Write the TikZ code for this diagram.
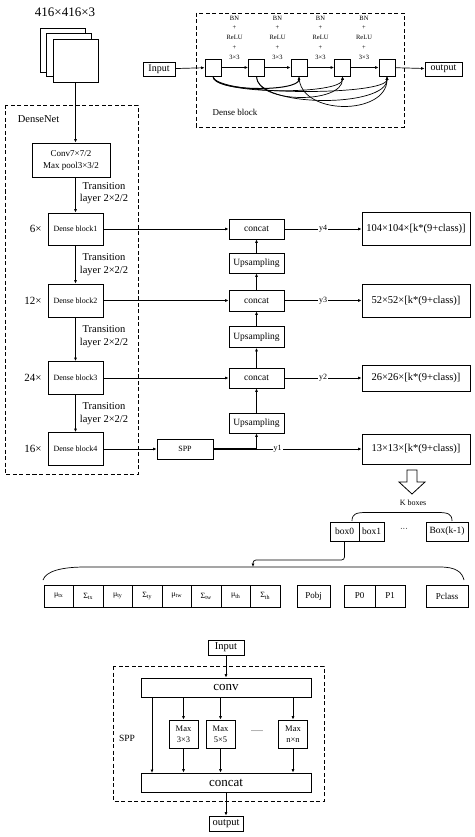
\documentclass[tikz,border=0pt]{standalone}
\usepackage{fontspec}
\setmainfont{Liberation Serif}
\usetikzlibrary{arrows.meta}
\begin{document}
\begin{tikzpicture}[x=1pt,y=-1pt,
  line width=0.7pt,
  arr/.style={-{Latex[length=3.5pt,width=3pt]}},
  box/.style={draw,fill=white,inner sep=0pt,align=center},
  dbox/.style={draw,dashed,line width=0.8pt,dash pattern=on 4pt off 2.5pt},
  cell/.style={draw,inner sep=0pt,minimum height=22,font=\fontsize{8}{9}\selectfont}
]
\useasboundingbox (0,0) rectangle (474,837);

% ---------- input image stack ----------
\node[font=\fontsize{13}{14}\selectfont] (title) at (65,12) {416×416×3};
\draw[fill=white] (40,28) rectangle (85,72);
\draw[fill=white] (46,33) rectangle (91,76);
\node[box,minimum width=45,minimum height=43] (img) at (75.5,60.5) {};

% ---------- Dense block diagram (top right) ----------
\draw[dbox] (196,13) rectangle (404,127);
\node[box,minimum width=32,minimum height=14,font=\fontsize{10}{11}\selectfont] (din) at (159,69) {Input};
\node[box,minimum width=37,minimum height=14,font=\fontsize{10}{11}\selectfont] (dout) at (443.5,69) {output};
\foreach \n/\x in {s1/213,s2/256.5,s3/299,s4/342.5,s5/387}
  \node[box,minimum width=16,minimum height=17] (\n) at (\x,67.5) {};
\foreach \x in {234.5,277.5,320.5,364}
  \node[align=center,inner sep=0pt,font=\fontsize{6.5}{9.75}\selectfont] at (\x,37.5) {BN\\+\\ReLU\\+\\3×3};
\node[font=\fontsize{9}{10}\selectfont] (dbl) at (235,112) {Dense block};
\draw[arr] (din) -- (s1);
\draw[arr] (s1) -- (s2);
\draw[arr] (s2) -- (s3);
\draw[arr] (s3) -- (s4);
\draw[arr] (s4) -- (s5);
\draw[arr] (s5) -- (dout);
\draw[arr,line width=1pt] (s1.south) .. controls (213,92) and (299,92) .. (s3.south);
\draw[arr] (s1.south) .. controls (214,95) and (342.5,95) .. (s4.south);
\draw[arr] (s1.south) .. controls (215,96) and (387,96) .. (s5.south);
\draw[arr] (s2.south) .. controls (256.5,104) and (342.5,104) .. (s4.south);
\draw[arr] (s2.south) .. controls (257,108) and (387,108) .. (s5.south);
\draw[arr] (s3.south) .. controls (299,116) and (387,116) .. (s5.south);

% ---------- DenseNet column ----------
\draw[dbox] (5,105) rectangle (138,474);
\node[font=\fontsize{10.5}{12}\selectfont] (dnl) at (38.5,119.5) {DenseNet};
\node[box,minimum width=78,minimum height=34,font=\fontsize{9}{12}\selectfont] (conv) at (71,160) {Conv7×7/2\\Max pool3×3/2};
\node[box,minimum width=55,minimum height=32,font=\fontsize{8}{9}\selectfont] (db1) at (75.5,229) {Dense block1};
\node[box,minimum width=55,minimum height=33,font=\fontsize{8}{9}\selectfont] (db2) at (75.5,300.5) {Dense block2};
\node[box,minimum width=55,minimum height=33,font=\fontsize{8}{9}\selectfont] (db3) at (75.5,378) {Dense block3};
\node[box,minimum width=55,minimum height=33,font=\fontsize{8}{9}\selectfont] (db4) at (75.5,449) {Dense block4};
\foreach \y in {193,264.5,336.5,413.5}
  \node[align=center,inner sep=0pt,font=\fontsize{10.5}{12.5}\selectfont] at (104,\y) {Transition\\layer 2×2/2};
\node[anchor=east,inner sep=0pt,font=\fontsize{11}{12}\selectfont] at (42,229) {6×};
\node[anchor=east,inner sep=0pt,font=\fontsize{11}{12}\selectfont] at (42,300.5) {12×};
\node[anchor=east,inner sep=0pt,font=\fontsize{11}{12}\selectfont] at (42,378) {24×};
\node[anchor=east,inner sep=0pt,font=\fontsize{11}{12}\selectfont] at (42,449) {16×};
\draw[arr] (img.south) -- (img.south |- conv.north);
\draw[arr] (db1.north |- conv.south) -- (db1.north);
\draw[arr] (db1.south) -- (db2.north);
\draw[arr] (db2.south) -- (db3.north);
\draw[arr] (db3.south) -- (db4.north);

% ---------- concat / upsampling column ----------
\tikzset{mid/.style={box,minimum width=55,minimum height=20,font=\fontsize{9.5}{10}\selectfont}}
\node[mid] (c1) at (256.5,229) {concat};
\node[mid] (u1) at (256.5,263) {Upsampling};
\node[mid,minimum height=21] (c2) at (256.5,300.5) {concat};
\node[mid,minimum height=21] (u2) at (256.5,337) {Upsampling};
\node[mid] (c3) at (256.5,378) {concat};
\node[mid] (u3) at (256.5,423) {Upsampling};
\node[mid,minimum width=56,font=\fontsize{8}{9}\selectfont] (spp) at (185,449) {SPP};
\coordinate (br) at (256.5,449);

\tikzset{outb/.style={box,minimum width=108,minimum height=31,font=\fontsize{10.5}{11}\selectfont}}
\node[outb,minimum height=33] (o1) at (416,229) {104×104×[k*(9+class)]};
\node[outb,minimum height=33] (o2) at (416,300.5) {52×52×[k*(9+class)]};
\node[outb,minimum height=26] (o3) at (416,378) {26×26×[k*(9+class)]};
\node[outb,minimum height=30] (o4) at (416,449) {13×13×[k*(9+class)]};

\draw[arr] (db1) -- (c1);
\draw[arr] (db2) -- (c2);
\draw[arr] (db3) -- (c3);
\draw[arr] (db4) -- (spp);
\draw[arr] (u1) -- (c1);
\draw[arr] (c2) -- (u1);
\draw[arr] (u2) -- (c2);
\draw[arr] (c3) -- (u2);
\draw[arr] (u3) -- (c3);
\draw[line width=1.1pt] (spp.east) -- (br);
\draw[arr] (br) -- (u3.south);
\tikzset{ylab/.style={fill=white,inner sep=1pt,font=\fontsize{8}{9}\selectfont}}
\draw[arr] (c1) -- node[ylab,pos=0.5] {y4} (o1);
\draw[arr] (c2) -- node[ylab,pos=0.5] {y3} (o2);
\draw[arr] (c3) -- node[ylab,pos=0.5] {y2} (o3);
\draw[arr] (br) -- node[ylab,pos=0.2] {y1} (o4);

% ---------- hollow down arrow ----------
\draw[line width=0.8pt,fill=white] (407,470) -- (417,470) -- (417,482) -- (425,482) -- (412,494) -- (399,482) -- (407,482) -- cycle;

% ---------- K boxes ----------
\node[font=\fontsize{8}{9}\selectfont] (kb) at (413,503) {K boxes};
\draw (352,521) .. controls (352,514) and (356,512.5) .. (366,512.5) -- (438,512.5) .. controls (448,512.5) and (452,514) .. (452,521);
\tikzset{kbox/.style={box,minimum height=19,font=\fontsize{9.5}{10}\selectfont}}
\node[kbox,minimum width=29] (b0) at (344.5,531.5) {box0};
\node[kbox,minimum width=25] (b1) at (371.5,531.5) {box1};
\node[font=\fontsize{8}{9}\selectfont] (dots) at (404,530) {···};
\node[kbox,minimum width=42] (bk) at (447,531.5) {Box(k-1)};
\coordinate (bt) at (253,567);
\draw[arr,rounded corners=3pt] (b0.south) |- (253,560) -- (bt);
\draw (43,580) .. controls (46,571) and (62,567) .. (85,567) -- (440,567) .. controls (456,567) and (462,572) .. (464,580);

% ---------- parameter row ----------
\foreach \i/\t in {0/μ\textsubscript{tx},1/Σ\textsubscript{tx},2/μ\textsubscript{ty},3/Σ\textsubscript{ty},4/μ\textsubscript{tw},5/Σ\textsubscript{tw},6/μ\textsubscript{th},7/Σ\textsubscript{th}}
  \node[cell,minimum width=29.5] (p\i) at ({58.75+29.5*\i},596) {\t};
\node[cell,minimum width=33,font=\fontsize{9}{10}\selectfont] (pobj) at (313.5,596) {Pobj};
\node[cell,minimum width=31,font=\fontsize{9}{10}\selectfont] (pz) at (359.5,596) {P0};
\node[cell,minimum width=30,font=\fontsize{9}{10}\selectfont] (po) at (390,596) {P1};
\node[cell,minimum width=42,font=\fontsize{9}{10}\selectfont] (pc) at (447,596) {Pclass};

% ---------- SPP detail ----------
\draw[dbox] (113,666) rectangle (324,801);
\node[font=\fontsize{9.5}{10}\selectfont] (sppl) at (127,738) {SPP};
\node[box,minimum width=36,minimum height=15,font=\fontsize{10.5}{11}\selectfont] (sin) at (226,647.5) {Input};
\node[box,minimum width=170,minimum height=19,font=\fontsize{13}{14}\selectfont] (sconv) at (226,687.5) {conv};
\tikzset{mbox/.style={box,minimum width=29,minimum height=28,font=\fontsize{8.5}{11}\selectfont}}
\node[mbox] (m1) at (183.5,734) {Max\\3×3};
\node[mbox] (m2) at (220.5,734) {Max\\5×5};
\node[mbox] (m3) at (293,734) {Max\\n×n};
\node[font=\fontsize{8}{9}\selectfont] (mdots) at (257,731) {......};
\node[box,minimum width=170,minimum height=19,font=\fontsize{13}{14}\selectfont] (scat) at (226,782.5) {concat};
\node[box,minimum width=34,minimum height=15,font=\fontsize{10.5}{11}\selectfont] (sout) at (226,823.5) {output};
\draw[arr] (sin) -- (sconv);
\draw[arr] (m1.north |- sconv.south) -- (m1.north);
\draw[arr] (m2.north |- sconv.south) -- (m2.north);
\draw[arr] (m3.north |- sconv.south) -- (m3.north);
\draw[arr] (m1.south) -- (m1.south |- scat.north);
\draw[arr] (m2.south) -- (m2.south |- scat.north);
\draw[arr] (m3.south) -- (m3.south |- scat.north);
\draw[arr] (152,697) -- (152,773);
\draw[arr] (scat) -- (sout);
\end{tikzpicture}
\end{document}
